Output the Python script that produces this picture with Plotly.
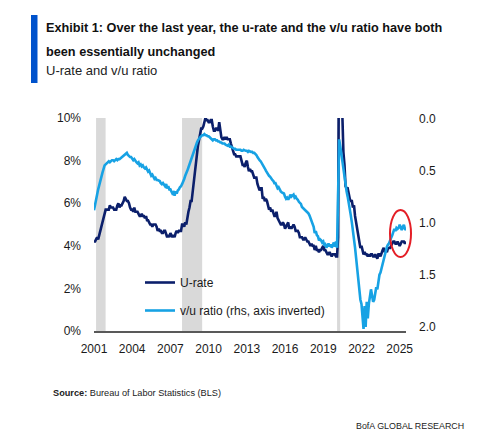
import plotly.graph_objects as go
import pandas as pd

# monthly data, Jan 2001 - Jul 2025
months = pd.date_range("2001-01-01", "2025-07-01", freq="MS")

u_rate = [
    4.2, 4.2, 4.3, 4.4, 4.3, 4.5, 4.6, 4.9, 5.0, 5.3, 5.5, 5.7,  # 2001
    5.7, 5.7, 5.7, 5.9, 5.8, 5.8, 5.8, 5.7, 5.7, 5.7, 5.9, 6.0,  # 2002
    5.8, 5.9, 5.9, 6.0, 6.1, 6.3, 6.2, 6.1, 6.1, 6.0, 5.8, 5.7,  # 2003
    5.7, 5.6, 5.8, 5.6, 5.6, 5.6, 5.5, 5.4, 5.4, 5.5, 5.4, 5.4,  # 2004
    5.3, 5.4, 5.2, 5.2, 5.1, 5.0, 5.0, 4.9, 5.0, 5.0, 5.0, 4.9,  # 2005
    4.7, 4.8, 4.7, 4.7, 4.6, 4.6, 4.7, 4.7, 4.5, 4.4, 4.5, 4.4,  # 2006
    4.6, 4.5, 4.4, 4.5, 4.4, 4.6, 4.7, 4.6, 4.7, 4.7, 4.7, 5.0,  # 2007
    5.0, 4.9, 5.1, 5.0, 5.4, 5.6, 5.8, 6.1, 6.1, 6.5, 6.8, 7.3,  # 2008
    7.8, 8.3, 8.7, 9.0, 9.4, 9.5, 9.5, 9.6, 9.8, 10.0, 9.9, 9.9,  # 2009
    9.8, 9.8, 9.9, 9.9, 9.6, 9.4, 9.4, 9.5, 9.5, 9.4, 9.8, 9.3,  # 2010
    9.1, 9.0, 9.0, 9.1, 9.0, 9.1, 9.0, 9.0, 9.0, 8.8, 8.6, 8.5,  # 2011
    8.3, 8.3, 8.2, 8.2, 8.2, 8.2, 8.2, 8.0, 7.8, 7.8, 7.7, 7.9,  # 2012
    8.0, 7.7, 7.5, 7.6, 7.5, 7.5, 7.3, 7.2, 7.2, 7.2, 6.9, 6.7,  # 2013
    6.6, 6.7, 6.7, 6.2, 6.3, 6.1, 6.2, 6.1, 5.9, 5.7, 5.8, 5.6,  # 2014
    5.7, 5.5, 5.4, 5.4, 5.6, 5.3, 5.2, 5.1, 5.0, 5.0, 5.1, 5.0,  # 2015
    4.8, 4.9, 5.0, 5.1, 4.8, 4.9, 4.8, 4.9, 5.0, 4.9, 4.7, 4.7,  # 2016
    4.7, 4.6, 4.4, 4.4, 4.4, 4.3, 4.3, 4.4, 4.3, 4.2, 4.2, 4.1,  # 2017
    4.0, 4.1, 4.0, 4.0, 3.8, 4.0, 3.8, 3.8, 3.7, 3.8, 3.8, 3.9,  # 2018
    4.0, 3.8, 3.8, 3.7, 3.6, 3.6, 3.7, 3.6, 3.5, 3.6, 3.6, 3.6,  # 2019
    3.5, 3.5, 4.4, 14.8, 13.2, 11.0, 10.2, 8.4, 7.8, 6.8, 6.7, 6.7,  # 2020
    6.4, 6.2, 6.1, 6.1, 5.8, 5.9, 5.4, 5.1, 4.7, 4.5, 4.2, 3.9,  # 2021
    4.0, 3.8, 3.6, 3.7, 3.6, 3.6, 3.5, 3.6, 3.5, 3.6, 3.6, 3.5,  # 2022
    3.5, 3.6, 3.5, 3.4, 3.6, 3.6, 3.5, 3.7, 3.8, 3.9, 3.7, 3.8,  # 2023
    3.7, 3.9, 3.9, 3.9, 4.0, 4.1, 4.2, 4.2, 4.1, 4.1, 4.2, 4.1,  # 2024
    4.0, 4.1, 4.2, 4.2, 4.2, 4.1, 4.2,                           # 2025
]

vu_ratio = [
    0.88, 0.82, 0.76, 0.70, 0.68, 0.64, 0.61, 0.56, 0.52, 0.48, 0.45, 0.44,  # 2001
    0.43, 0.42, 0.41, 0.42, 0.41, 0.40, 0.40, 0.41, 0.40, 0.39, 0.40, 0.39,  # 2002
    0.39, 0.38, 0.38, 0.37, 0.36, 0.35, 0.34, 0.33, 0.35, 0.36, 0.37, 0.37,  # 2003
    0.38, 0.40, 0.39, 0.41, 0.42, 0.43, 0.42, 0.45, 0.44, 0.46, 0.45, 0.47,  # 2004
    0.48, 0.47, 0.50, 0.51, 0.50, 0.53, 0.55, 0.54, 0.56, 0.58, 0.57, 0.59,  # 2005
    0.59, 0.60, 0.60, 0.62, 0.63, 0.62, 0.64, 0.65, 0.63, 0.67, 0.65, 0.68,  # 2006
    0.68, 0.70, 0.72, 0.71, 0.74, 0.70, 0.72, 0.69, 0.68, 0.66, 0.65, 0.63,  # 2007
    0.61, 0.58, 0.55, 0.53, 0.50, 0.47, 0.44, 0.40, 0.38, 0.34, 0.30, 0.27,  # 2008
    0.25, 0.23, 0.21, 0.19, 0.18, 0.17, 0.16, 0.16, 0.15, 0.16, 0.16, 0.17,  # 2009
    0.17, 0.18, 0.19, 0.20, 0.21, 0.20, 0.20, 0.21, 0.21, 0.22, 0.22, 0.23,  # 2010
    0.23, 0.24, 0.24, 0.24, 0.25, 0.26, 0.26, 0.25, 0.27, 0.27, 0.28, 0.28,  # 2011
    0.29, 0.29, 0.30, 0.30, 0.30, 0.30, 0.30, 0.31, 0.31, 0.30, 0.31, 0.31,  # 2012
    0.31, 0.32, 0.31, 0.32, 0.32, 0.32, 0.33, 0.33, 0.34, 0.35, 0.37, 0.39,  # 2013
    0.40, 0.41, 0.43, 0.44, 0.47, 0.48, 0.50, 0.52, 0.53, 0.55, 0.56, 0.58,  # 2014
    0.59, 0.60, 0.62, 0.62, 0.64, 0.67, 0.66, 0.69, 0.70, 0.71, 0.72, 0.72,  # 2015
    0.75, 0.77, 0.76, 0.78, 0.76, 0.73, 0.75, 0.74, 0.73, 0.76, 0.75, 0.77,  # 2016
    0.78, 0.80, 0.81, 0.82, 0.85, 0.86, 0.86, 0.87, 0.89, 0.90, 0.91, 0.93,  # 2017
    0.96, 1.00, 1.02, 1.04, 1.10, 1.08, 1.12, 1.13, 1.17, 1.16, 1.17, 1.19,  # 2018
    1.18, 1.22, 1.21, 1.24, 1.22, 1.20, 1.23, 1.21, 1.24, 1.22, 1.19, 1.23,  # 2019
    1.18, 1.24, 0.82, 0.20, 0.26, 0.34, 0.42, 0.50, 0.57, 0.64, 0.70, 0.75,  # 2020
    0.80, 0.86, 0.93, 1.00, 1.07, 1.15, 1.24, 1.34, 1.44, 1.55, 1.66, 1.74,  # 2021
    1.78, 1.92, 2.02, 1.80, 2.00, 1.76, 1.92, 1.78, 1.72, 1.64, 1.70, 1.76,  # 2022
    1.74, 1.68, 1.62, 1.64, 1.56, 1.50, 1.48, 1.44, 1.40, 1.34, 1.30, 1.27,  # 2023
    1.23, 1.21, 1.20, 1.17, 1.15, 1.12, 1.09, 1.06, 1.08, 1.05, 1.06, 1.05,  # 2024
    1.02, 1.05, 1.07, 1.04, 1.02, 1.06, 1.07,                                # 2025
]

recessions = [
    ("2001-03-01", "2001-11-30"),
    ("2007-12-01", "2009-06-30"),
    ("2020-02-01", "2020-04-30"),
]

tick_years = list(range(2001, 2026, 3))
left_ticks = [0, 2, 4, 6, 8, 10]
right_ticks = [0.0, 0.5, 1.0, 1.5, 2.0]

NAVY = "#0b1f6b"
LIGHT = "#17a2e4"
sans = "Liberation Sans, Arial, sans-serif"

W, H = 480, 447
L, R, T, B = 94, 74, 118, 116


def px(x):
    return (x - L) / (W - L - R)


def py(y):
    return (H - B - y) / (H - T - B)


fig = go.Figure()

fig.add_trace(go.Scatter(
    x=months, y=u_rate, name="U-rate", mode="lines",
    line=dict(color=NAVY, width=2.6), legendgroup="a",
))
fig.add_trace(go.Scatter(
    x=months, y=vu_ratio, name="v/u ratio (rhs, axis inverted)", mode="lines",
    line=dict(color=LIGHT, width=2.6), yaxis="y2", legendgroup="b",
))

for start, end in recessions:
    fig.add_shape(type="rect", xref="x", yref="y", x0=start, x1=end, y0=0, y1=10,
                  fillcolor="#d9d9d9", line_width=0, layer="below")

# white backdrop behind the legend (hides the shading there)
fig.add_shape(type="rect", xref="paper", yref="paper", x0=px(138), x1=px(330),
              y0=py(323), y1=py(267), fillcolor="white", line_width=0, layer="below")

# blue bar next to the title
fig.add_shape(type="rect", xref="paper", yref="paper", x0=px(31), x1=px(37.5),
              y0=py(83), y1=py(15), fillcolor="#0052cc", line_width=0)

# red circle around the latest readings
fig.add_shape(type="circle", xref="paper", yref="paper", x0=px(390), x1=px(411),
              y0=py(257), y1=py(210), line=dict(color="#e41e26", width=2))

fig.add_annotation(x=px(44), y=py(28), xref="paper", yref="paper", xanchor="left", yanchor="middle",
                   text="<b>Exhibit 1: Over the last year, the u-rate and the v/u ratio have both</b>",
                   showarrow=False, font=dict(family=sans, size=12.7, color="#111"))
fig.add_annotation(x=px(44), y=py(52), xref="paper", yref="paper", xanchor="left", yanchor="middle",
                   text="<b>been essentially unchanged</b>",
                   showarrow=False, font=dict(family=sans, size=12.7, color="#111"))
fig.add_annotation(x=px(44), y=py(71), xref="paper", yref="paper", xanchor="left", yanchor="middle",
                   text="U-rate and v/u ratio",
                   showarrow=False, font=dict(family=sans, size=13, color="#222"))
fig.add_annotation(x=px(51), y=py(393), xref="paper", yref="paper", xanchor="left", yanchor="middle",
                   text="<b>Source:</b> Bureau of Labor Statistics (BLS)",
                   showarrow=False, font=dict(family=sans, size=9.2, color="#222"))
fig.add_annotation(x=px(466), y=py(426), xref="paper", yref="paper", xanchor="right", yanchor="middle",
                   text="BofA GLOBAL RESEARCH",
                   showarrow=False, font=dict(family=sans, size=8.9, color="#222"))

fig.update_layout(
    width=W, height=H,
    margin=dict(l=L, r=R, t=T, b=B),
    paper_bgcolor="white", plot_bgcolor="white",
    font=dict(family=sans, size=12, color="#1a1a1a"),
    showlegend=True,
    legend=dict(x=px(140), y=py(268), xanchor="left", yanchor="top",
                bgcolor="rgba(0,0,0,0)", borderwidth=0, tracegroupgap=9,
                font=dict(family=sans, size=12, color="#1a1a1a")),
    xaxis=dict(
        range=[months[0], months[-1]],
        tickvals=[pd.Timestamp(f"{y}-01-01") for y in tick_years],
        ticktext=[str(y) for y in tick_years],
        showgrid=False, zeroline=False,
        showline=True, linecolor="#595959", linewidth=1.5,
        ticks="", ticklabelstandoff=6,
    ),
    yaxis=dict(
        range=[0, 10], tickvals=left_ticks, ticktext=[f"{v}%" for v in left_ticks],
        showgrid=False, zeroline=False, showline=False,
        ticks="", ticklabelstandoff=12,
    ),
    yaxis2=dict(
        range=[2.04, -0.005], overlaying="y", side="right",
        tickvals=right_ticks, ticktext=[f"{v:.1f}" for v in right_ticks],
        showgrid=False, zeroline=False, showline=False,
        ticks="", ticklabelstandoff=12,
    ),
)

fig.write_html("out.html", config={"displayModeBar": False},
               post_script="document.body.style.margin='0px';")
